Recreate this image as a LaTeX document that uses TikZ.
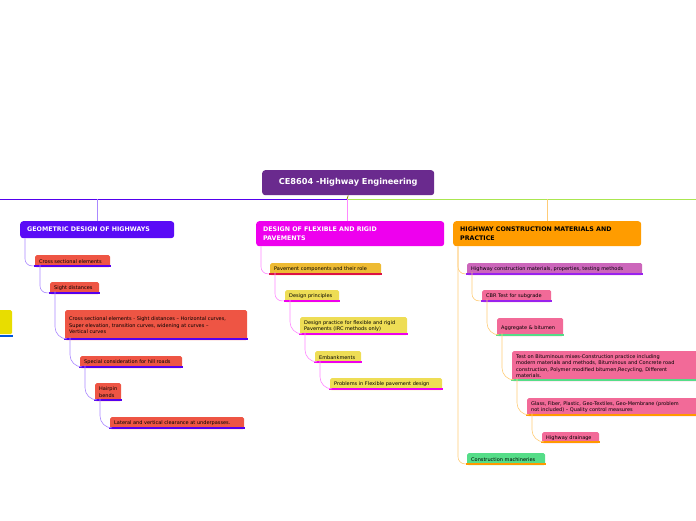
\documentclass[tikz,border=0pt]{standalone}
\usepackage{fontspec}
\setmainfont{DejaVu Sans}
\usetikzlibrary{calc}
\definecolor{rootc}{HTML}{6A2A8E}
\definecolor{geoc}{HTML}{5A0BF6}
\definecolor{flexc}{HTML}{EE00EE}
\definecolor{consc}{HTML}{FF9C00}
\definecolor{redc}{HTML}{EE5544}
\definecolor{yelc}{HTML}{EEDD55}
\definecolor{ambc}{HTML}{EEBB33}
\definecolor{pinkc}{HTML}{F26A98}
\definecolor{mauvc}{HTML}{CC66BB}
\definecolor{grnc}{HTML}{55DD88}
\definecolor{purc}{HTML}{9922EE}
\definecolor{ulblue}{HTML}{5500EE}
\definecolor{ulred}{HTML}{DD1144}
\definecolor{ulorg}{HTML}{FF9900}
\definecolor{lyel}{HTML}{E8DD00}
\definecolor{conL}{HTML}{AA88FF}
\definecolor{conM}{HTML}{FF88FF}
\definecolor{conR}{HTML}{FFCC77}
\tikzset{
 box/.style={anchor=north west,inner sep=0pt,rounded corners=1.5pt,align=left},
 conn/.style={line width=0.6pt,rounded corners=7pt}
}
\newcommand\mm[9]{%
 \pgfmathsetmacro\bw{#4-#2}\pgfmathsetmacro\bh{#5-#3}%
 \node[box,fill=#6,minimum width=\bw pt,minimum height=\bh pt] (#1) at (#2,#3) {};
 \node[anchor=west,inner sep=0pt,align=left,font=#8] at ($(#1.west)+(4,0)$) {#9};
 \draw[line width=2pt,#7] ($(#1.south west)+(-1,-1.5)$) -- ($(#1.south east)+(1,-1.5)$);}
\begin{document}
\begin{tikzpicture}[x=1pt,y=-1pt]
\useasboundingbox (0,0) rectangle (696,520);
\def\sm{\fontsize{5}{6.4}\selectfont}
\def\hd{\fontsize{6.3}{8.6}\selectfont\bfseries}
% root
\node[box,fill=rootc,minimum width=172pt,minimum height=25pt,rounded corners=3pt] (root) at (262,170) {};
\node[text=white,font=\fontsize{8.2}{10}\selectfont\bfseries] at (root.center) {CE8604 -Highway Engineering};
\coordinate (hub) at (347,199);
\draw[line width=0.8pt,color=olive] (root.south) -- (hub);
\draw[line width=0.8pt,ulblue] (0,199) -- (hub);
\draw[line width=0.8pt,color={rgb,255:red,170;green,230;blue,80}] (hub) -- (696,199);
% left yellow fragment
\node[box,fill=lyel,minimum width=15pt,minimum height=24pt] (ly) at (-3,310) {};
\draw[line width=2pt,color={rgb,255:red,0;green,85;blue,221}] (0,336) -- (13,336);
% headers
\node[box,fill=geoc,minimum width=154pt,minimum height=17pt,rounded corners=3pt] (geo) at (20,221) {};
\node[anchor=west,text=white,font=\hd,inner sep=0pt] at ($(geo.west)+(7,0)$) {GEOMETRIC DESIGN OF HIGHWAYS};
\node[box,fill=flexc,minimum width=188pt,minimum height=25pt,rounded corners=3pt] (flex) at (256,221) {};
\node[anchor=west,text=white,font=\hd,inner sep=0pt,align=left] at ($(flex.west)+(7,0)$) {DESIGN OF FLEXIBLE AND RIGID\\PAVEMENTS};
\node[box,fill=consc,minimum width=188pt,minimum height=25pt,rounded corners=3pt] (cons) at (453,221) {};
\node[anchor=west,text=black,font=\hd,inner sep=0pt,align=left] at ($(cons.west)+(7,0)$) {HIGHWAY CONSTRUCTION MATERIALS AND\\PRACTICE};
\draw[conn,conL] (hub) ++(-250,0) coordinate (gt) -- (gt |- geo.north);
\draw[conn,conM] (hub) -- (hub |- flex.north);
\draw[line width=0.6pt,conR] (547,199) coordinate (ct) -- (ct |- cons.north);
% left children
\mm{l1}{35}{255}{110}{267}{redc}{ulblue}{\sm}{Cross sectional elements}
\mm{l2}{50}{282}{99}{294}{redc}{ulblue}{\sm}{Sight distances}
\mm{l3}{65}{310}{247}{340}{redc}{ulblue}{\sm}{\\[-2pt]Cross sectional elements - Sight distances – Horizontal curves,\\Super elevation, transition curves, widening at curves –\\Vertical curves}
\mm{l4}{80}{356}{182}{368}{redc}{ulblue}{\sm}{Special consideration for hill roads}
\mm{l5}{95}{383}{121}{401}{redc}{ulblue}{\sm}{Hairpin\\bends}
\mm{l6}{110}{417}{244}{429}{redc}{ulblue}{\sm}{Lateral and vertical clearance at underpasses.}
\draw[conn,conL] ($(geo.south west)+(5,0)$) |- ($(l1.south west)+(-1,-1.5)$);
\draw[conn,conL] ($(l1.south west)+(5,-3)$) |- ($(l2.south west)+(-1,-1.5)$);
\draw[conn,conL,rounded corners=12pt] ($(l2.south west)+(5,-3)$) |- ($(l3.south west)+(-1,-1.5)$);
\draw[conn,conL,rounded corners=12pt] ($(l3.south west)+(5,-3)$) |- ($(l4.south west)+(-1,-1.5)$);
\draw[conn,conL,rounded corners=12pt] ($(l4.south west)+(5,-3)$) |- ($(l5.south west)+(-1,-1.5)$);
\draw[conn,conL,rounded corners=12pt] ($(l5.south west)+(5,-3)$) |- ($(l6.south west)+(-1,-1.5)$);
% middle children
\mm{m1}{270}{263}{381}{275}{ambc}{ulred}{\sm}{Pavement components and their role}
\mm{m2}{285}{290}{339}{302}{yelc}{flexc}{\sm}{Design principles}
\mm{m3}{300}{317}{407}{335}{yelc}{flexc}{\sm}{Design practice for flexible and rigid\\Pavements (IRC methods only)}
\mm{m4}{315}{351}{361}{363}{yelc}{flexc}{\sm}{Embankments}
\mm{m5}{330}{378}{442}{390}{yelc}{flexc}{\sm}{Problems in Flexible pavement design}
\draw[conn,conM] ($(flex.south west)+(5,0)$) |- ($(m1.south west)+(-1,-1.5)$);
\draw[conn,conM] ($(m1.south west)+(5,-3)$) |- ($(m2.south west)+(-1,-1.5)$);
\draw[conn,conM,rounded corners=12pt] ($(m2.south west)+(5,-3)$) |- ($(m3.south west)+(-1,-1.5)$);
\draw[conn,conM,rounded corners=12pt] ($(m3.south west)+(5,-3)$) |- ($(m4.south west)+(-1,-1.5)$);
\draw[conn,conM,rounded corners=12pt] ($(m4.south west)+(5,-3)$) |- ($(m5.south west)+(-1,-1.5)$);
% right children
\mm{r1}{467}{263}{642}{275}{mauvc}{purc}{\sm}{Highway construction materials, properties, testing methods}
\mm{r2}{482}{290}{551}{302}{pinkc}{purc}{\sm}{CBR Test for subgrade}
\mm{r3}{497}{318}{563}{336}{pinkc}{grnc}{\sm}{\\[-1pt]Aggregate \& bitumen}
\mm{r4}{512}{351}{700}{381}{pinkc}{grnc}{\sm}{Test on Bituminous mixes-Construction practice including\\modern materials and methods, Bituminous and Concrete road\\construction, Polymer modified bitumen,Recycling, Different\\materials.}
\mm{r5}{527}{398}{700}{416}{pinkc}{ulorg}{\sm}{Glass, Fiber, Plastic, Geo-Textiles, Geo-Membrane (problem\\not included) – Quality control measures}
\mm{r6}{542}{432}{599}{443}{pinkc}{ulorg}{\sm}{Highway drainage}
\mm{r7}{467}{453}{545}{465}{grnc}{ulorg}{\sm}{Construction machineries}
\draw[conn,conR] ($(cons.south west)+(5,0)$) |- ($(r1.south west)+(-1,-1.5)$);
\draw[conn,conR] ($(cons.south west)+(5,0)$) |- ($(r7.south west)+(-1,-1.5)$);
\draw[conn,conR] ($(r1.south west)+(5,-3)$) |- ($(r2.south west)+(-1,-1.5)$);
\draw[conn,conR,rounded corners=12pt] ($(r2.south west)+(5,-3)$) |- ($(r3.south west)+(-1,-1.5)$);
\draw[conn,conR,rounded corners=12pt] ($(r3.south west)+(5,-3)$) |- ($(r4.south west)+(-1,-1.5)$);
\draw[conn,conR,rounded corners=12pt] ($(r4.south west)+(5,-3)$) |- ($(r5.south west)+(-1,-1.5)$);
\draw[conn,conR,rounded corners=12pt] ($(r5.south west)+(5,-3)$) |- ($(r6.south west)+(-1,-1.5)$);
\end{tikzpicture}
\end{document}
